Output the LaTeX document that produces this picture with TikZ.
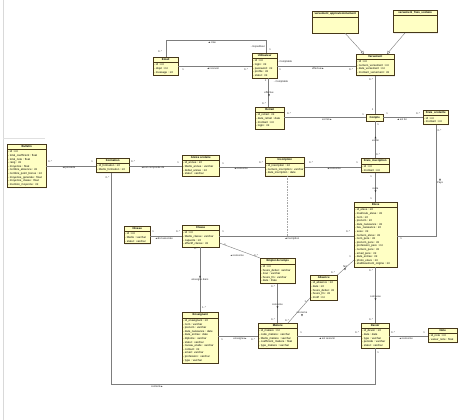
\documentclass[tikz,border=0pt]{standalone}
\usepackage{fontspec}
\setmainfont{Liberation Sans}
\newfontfamily\symf{DejaVu Sans}
\usetikzlibrary{shapes.multipart,arrows.meta,shadows}
\newcommand\arL{{\symf ◄}}
\newcommand\arR{{\symf ►}}
\newcommand\arU{{\symf ▲}}
\newcommand\arD{{\symf ▼}}
\definecolor{clsfill}{RGB}{255,255,196}
\definecolor{clsborder}{RGB}{70,55,25}
\definecolor{linec}{RGB}{125,125,125}
\begin{document}
\begin{tikzpicture}[x=1pt,y=-1pt,
  cls/.style={rectangle split, rectangle split parts=2, draw=clsborder, fill=clsfill,
    line width=0.45pt, inner xsep=1pt, inner ysep=1.3pt, anchor=north west,
    rectangle split part align={center,left}, align=left, minimum width=#1,
    font=\fontsize{2.8}{3.6}\selectfont,
    drop shadow={shadow xshift=0.7pt, shadow yshift=-0.7pt, fill=black!30, opacity=0.6}},
  cls1/.style={rectangle, draw=clsborder, fill=clsfill, line width=0.45pt, inner sep=1pt,
    anchor=north west, minimum width=#1, minimum height=7pt,
    font=\fontsize{2.8}{3.6}\selectfont,
    drop shadow={shadow xshift=0.7pt, shadow yshift=-0.7pt, fill=black!30, opacity=0.6}},
  assoc/.style={draw=linec, line width=0.4pt},
  lbl/.style={font=\fontsize{2.6}{3}\selectfont, inner sep=0.2pt, align=center, text=black!85},
  mult/.style={font=\fontsize{2.6}{3}\selectfont, inner sep=0.2pt, text=black!85},
  gen/.style={draw=linec, line width=0.4pt, -{Triangle[open, length=3pt, width=3.2pt]}}
]
\useasboundingbox (0,0) rectangle (474,420);
\fill[white] (0,0) rectangle (474,420);
\draw[black!15, line width=0.5pt] (3,0) -- (3,420);
\draw[black!12, line width=0.4pt] (3,138) -- (45,138);

% ---------- classes ----------
\node[cls=25pt] (email) at (153,57) {\textbf{Email}\nodepart{two}- id : int\\- objet : int\\- message : int};
\node[cls=25pt] (util) at (252,53) {\textbf{Utilisateur}\nodepart{two}- id : int\\- login : int\\- password : int\\- profile : int\\- statut : int};
\node[cls=29pt] (retrait) at (255,107) {\textbf{Retrait}\nodepart{two}- id\_retrait : int\\- date\_retrait : date\\- montant : int\\- login : int};
\node[cls=46pt] (vappro) at (312,11) {\textbf{versement\_approvisionnement}\nodepart{two}\rule{0pt}{13pt}};
\node[cls=44pt] (vfrais) at (393,10) {\textbf{versement\_frais\_scolaire}\nodepart{two}\rule{0pt}{14pt}};
\node[cls=38pt] (versement) at (356,54) {\textbf{Versement}\nodepart{two}- id : int\\- numero\_versement : int\\- date\_versement : int\\- montant\_versement : int};
\node[cls1=17pt] (compte) at (366,114) {\textbf{Compte}};
\node[cls=25pt] (fraissco) at (423,110) {\textbf{Frais\_scolarite}\nodepart{two}- id : int\\- montant : int};
\node[cls=39pt] (bulletin) at (7,144) {\textbf{Bulletin}\nodepart{two}- id : int\\- total\_coefficient : float\\- total\_note : float\\- rang : int\\- moyenne : float\\- nombre\_absence : int\\- nombre\_point\_bonus : int\\- moyenne\_generale : float\\- moyenne\_classe : float\\- mention\_moyenne : int};
\node[cls=33pt] (formation) at (96,158) {\textbf{Formation}\nodepart{two}- id\_formation : int\\- libelle\_formation : int};
\node[cls=37pt] (annee) at (182,155) {\textbf{Année scolaire}\nodepart{two}- id\_annee : int\\- libelle\_annee : varchar\\- debut\_annee : int\\- statut : varchar};
\node[cls=32pt] (inscription) at (265,157) {\textbf{Inscription}\nodepart{two}- id\_inscription : int\\- numero\_inscription : varchar\\- date\_inscription : date};
\node[cls=28pt] (fraisins) at (361,158) {\textbf{Frais\_inscription}\nodepart{two}- id : int\\- montant : int};
\node[cls=43pt] (eleve) at (354,202) {\textbf{Eleve}\nodepart{two}- id\_eleve : int\\- matricule\_eleve : int\\- nom : int\\- prenom : int\\- date\_naissance : int\\- lieu\_naissance : int\\- sexe : int\\- numero\_eleve : int\\- nom\_pere : int\\- prenom\_pere : int\\- profession\_pere : int\\- numero\_pere : int\\- email\_pere : int\\- date\_entree : int\\- photo\_eleve : int\\- etablissement\_origine : int};
\node[cls=26pt] (niveau) at (124,226) {\textbf{Niveau}\nodepart{two}- id : int\\- libelle : varchar\\- statut : varchar};
\node[cls=37pt] (classe) at (182,225) {\textbf{Classe}\nodepart{two}- id : int\\- libelle\_classe : varchar\\- capacite : int\\- effectif\_classe : int};
\node[cls=35pt] (emploi) at (260,258) {\textbf{Emploi de temps}\nodepart{two}- id : int\\- heure\_debut : varchar\\- Jour : varchar\\- heure\_fin : varchar\\- date : Date};
\node[cls=36pt] (enseignant) at (182,312) {\textbf{Enseignant}\nodepart{two}- id\_enseignant : int\\- nom : varchar\\- prenom : varchar\\- date\_naissance : date\\- date\_entree : date\\- diplome : varchar\\- statut : varchar\\- niveau\_etude : varchar\\- contact : int\\- email : varchar\\- profession : varchar\\- type : varchar};
\node[cls=39pt] (matiere) at (258,323) {\textbf{Matiere}\nodepart{two}- id\_matiere : int\\- code\_matiere : varchar\\- libelle\_matiere : varchar\\- coefficient\_matiere : float\\- type\_matiere : varchar};
\node[cls=27pt] (absence) at (310,275) {\textbf{Absence}\nodepart{two}- id\_absence : int\\- date : int\\- heure\_debut : int\\- heure\_fin : int\\- motif : int};
\node[cls=28pt] (devoir) at (361,323) {\textbf{Devoir}\nodepart{two}- id\_devoir : int\\- date : date\\- type : varchar\\- periode : varchar\\- statut : varchar};
\node[cls=29pt] (note) at (428,328) {\textbf{Note}\nodepart{two}- id\_note : int\\- valeur\_note : float};

% ---------- connectors ----------
\coordinate (cbot) at (375,384);
\draw[assoc] (email.north) -- (email.north |- 0,40) -| (util.north -| 266.5,0);
\draw[assoc] (email.east |- 0,66) -- (util.west |- 0,66);
\draw[assoc] (util.east |- 0,66) -- (versement.west |- 0,66);
\draw[assoc] (util.south -| 268,0) -- (retrait.north -| 268,0);
\draw[assoc] (retrait.east |- 0,117) -- (compte.west |- 0,117);
\draw[assoc] (versement.south -| 375,0) -- (compte.north -| 375,0);
\draw[assoc] (compte.east |- 0,117) -- (fraissco.west |- 0,117);
\draw[gen] (vappro.south -| 345,0) -- (versement.north -| 364,0);
\draw[gen] (vfrais.south -| 405,0) -- (versement.north -| 387,0);
\draw[assoc] (compte.south -| 375,0) -- (fraisins.north -| 375,0);
\draw[assoc] (fraissco.south -| 436,0) |- (eleve.east |- 0,236);
\draw[assoc] (fraisins.south -| 375,0) -- (eleve.north -| 375,0);
\draw[assoc] (inscription.east |- 0,167) -- (fraisins.west |- 0,167);
\draw[assoc] (annee.east |- 0,167) -- (inscription.west |- 0,167);
\draw[assoc] (formation.east |- 0,166) -- (annee.west |- 0,166);
\draw[assoc] (bulletin.east |- 0,166) -- (formation.west |- 0,166);
\draw[assoc] (formation.south -| 111,0) |- (cbot) -- (devoir.south -| cbot);
\draw[assoc] (niveau.east |- 0,236) -- (classe.west |- 0,236);
\draw[assoc] (classe.east |- 0,236) -- (eleve.west |- 0,236);
\draw[draw=black!35, line width=0.3pt, dash pattern=on 0.6pt off 1pt] (inscription.south -| 287,0) -- (287,236);
\draw[assoc] (classe.east |- 0,243) -- (emploi.north west);
\draw[assoc] (classe.south -| 200,0) -- (enseignant.north -| 200,0);
\draw[assoc] (enseignant.east |- 0,336) -- (matiere.west |- 0,336);
\draw[assoc] (emploi.south -| 277,0) -- (matiere.north -| 277,0);
\draw[assoc] (absence.west |- 0,298) -- (matiere.north -| 288,0);
\draw[assoc] (eleve.west |- 0,260) -- (absence.north east);
\draw[assoc] (matiere.east |- 0,336) -- (devoir.west |- 0,336);
\draw[assoc] (eleve.south -| 375,0) -- (devoir.north -| 375,0);
\draw[assoc] (devoir.east |- 0,336) -- (note.west |- 0,336);

% ---------- labels ----------
\node[lbl] (l1) at (212,42.5) {\arL\ crée};
\node[lbl] (l2) at (258,47) {- Expediteur};
\node[mult] (m1) at (160,52) {0..*};
\node[mult] (m2) at (270,50) {1};
\node[lbl] (l3) at (213,68.5) {\arL\ recevoir};
\node[mult] (m3) at (183,69.5) {1};
\node[mult] (m4) at (246,69.5) {0..*};
\node[lbl] (l4) at (285,61.5) {- Comptable};
\node[mult] (m5) at (280,69.5) {1};
\node[lbl] (l5) at (318,68.5) {effectue \arR};
\node[mult] (m6) at (351,69.5) {0..*};
\node[lbl] (l6) at (269,93.8) {effectue\\\arD};
\node[mult] (m7) at (265.5,81) {1};
\node[lbl] (l7) at (281,82) {- Comptable};
\node[mult] (m8) at (264,104) {0..*};
\node[lbl] (l8) at (327,119.5) {est lié \arR};
\node[mult] (m9) at (289,114) {0..*};
\node[mult] (m10) at (363,114.5) {1};
\node[mult] (m11) at (371,80) {0..*};
\node[mult] (m12) at (372.5,110) {1};
\node[lbl] (l9) at (402,119.5) {\arL\ est lié};
\node[mult] (m13) at (387,114) {1};
\node[mult] (m14) at (418,114) {0..*};
\node[lbl] (l10) at (375.5,139.5) {\arU\\est lié};
\node[mult] (m15) at (378,125) {1};
\node[mult] (m16) at (378,154.5) {0..*};
\node[lbl] (l11) at (440,181.5) {\arU\\Paye};
\node[mult] (m17) at (439.5,131) {0..*};
\node[mult] (m18) at (401,239) {1};
\node[lbl] (l12) at (375.5,190) {regle\\\arD};
\node[mult] (m19) at (371,177) {1};
\node[mult] (m20) at (371,199) {1};
\node[lbl] (l13) at (334,168.5) {\arL\ concerne};
\node[mult] (m21) at (311,162.5) {0..*};
\node[mult] (m22) at (357,163) {1};
\node[lbl] (l14) at (241,168.5) {\arL\ concerne};
\node[mult] (m23) at (223,163.5) {1};
\node[mult] (m24) at (261,163) {0..*};
\node[lbl] (l15) at (153,167.8) {\arL\ est composée de};
\node[mult] (m25) at (133,162) {0..*};
\node[mult] (m26) at (178,162.5) {1};
\node[lbl] (l16) at (69,168) {\arL\ possede};
\node[mult] (m27) at (50,161.5) {0..*};
\node[mult] (m28) at (92,162) {1};
\node[lbl] (l17) at (157,386.5) {contient \arR};
\node[mult] (m29) at (107.5,178) {0..*};
\node[mult] (m30) at (378,353) {1};
\node[lbl] (l18) at (164,238.5) {\arL\ Est associée};
\node[mult] (m31) at (153,231.5) {1};
\node[mult] (m32) at (178,231.5) {0..*};
\node[lbl] (l19) at (292,238.5) {\arL\ inscription};
\node[mult] (m33) at (223,231.5) {1};
\node[mult] (m34) at (348,231.5) {0..*};
\node[lbl] (l20) at (237,255.5) {\arL\ concerne};
\node[mult] (m35) at (225,245) {1};
\node[mult] (m36) at (256,255.5) {0..*};
\node[lbl] (l21) at (200,278.5) {\arU\\enseigne dans};
\node[mult] (m37) at (196,249) {0..*};
\node[mult] (m38) at (204,308) {1..*};
\node[lbl] (l22) at (240,338.5) {enseigne \arR};
\node[mult] (m39) at (222,340) {1};
\node[mult] (m40) at (253,340) {0..*};
\node[lbl] (l23) at (277.5,306.5) {concerne\\\arD};
\node[mult] (m41) at (273,286.5) {0..*};
\node[mult] (m42) at (273,319.5) {0..*};
\node[lbl] (l24) at (302,314) {concerne\\\arD};
\node[mult] (m43) at (306.5,301.5) {1..*};
\node[mult] (m44) at (287,320.5) {0..*};
\node[lbl] (l25) at (345,268.5) {fait\\\arD};
\node[mult] (m45) at (350,257) {1};
\node[mult] (m46) at (333,273) {0..*};
\node[lbl] (l26) at (327,338.5) {\arL\ est associé};
\node[mult] (m47) at (301,332.5) {1};
\node[mult] (m48) at (357,332.5) {0..*};
\node[lbl] (l27) at (375.5,298.5) {compose\\\arD};
\node[mult] (m49) at (371,271) {0..*};
\node[mult] (m50) at (371,319.5) {0..*};
\node[lbl] (l28) at (406,338.5) {\arL\ concerne};
\node[mult] (m51) at (393,332.5) {0..*};
\node[mult] (m52) at (424,332.5) {1};
\end{tikzpicture}
\end{document}
